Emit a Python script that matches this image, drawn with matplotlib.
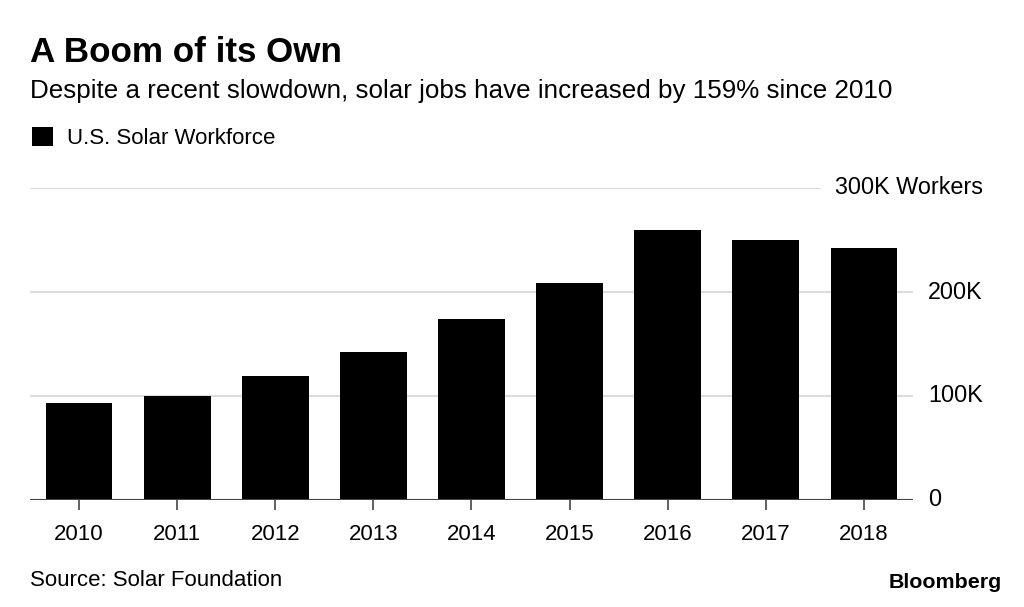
import matplotlib
matplotlib.use("Agg")
from matplotlib import pyplot as plt
import matplotlib.transforms as mtransforms

years = ["2010", "2011", "2012", "2013", "2014", "2015", "2016", "2017", "2018"]
workers = [93502, 100237, 119016, 142698, 173807, 208859, 260077, 250271, 242343]
y_ticks = [0, 100000, 200000, 300000]
y_labels = ["0", "100K", "200K", "300K Workers"]

plt.rcParams['font.family'] = ['Liberation Sans', 'DejaVu Sans']

W, H = 1024, 607
fig = plt.figure(figsize=(W / 100, H / 100), dpi=100)
ax = fig.add_axes([30 / W, 1 - 500 / H, 883 / W, 312 / H])

x = list(range(len(years)))
bars = ax.bar(x, workers, width=0.68, color="black", zorder=3, label="U.S. Solar Workforce")

ax.set_xlim(-0.5, len(years) - 0.5)
ax.set_ylim(0, 300000)

# gridlines, the top one stops before its longer label
for v in y_ticks[1:]:
    xmax = 0.895 if v == y_ticks[-1] else 1.0
    ax.axhline(v, xmin=0, xmax=xmax, color="#dcdcdc", lw=1.5, zorder=1)
ax.axhline(0, color="#444444", lw=1.5, zorder=4)

for s in ax.spines.values():
    s.set_visible(False)

ax.set_xticks(x)
ax.set_xticklabels(years, fontsize=16)
ax.tick_params(axis="x", length=7, width=1.2, color="#444444", pad=10)
ax.set_yticks([])

trans = mtransforms.blended_transform_factory(ax.transAxes, ax.transData)
for v, lab in zip(y_ticks, y_labels):
    xpos = 0.912 if v == y_ticks[-1] else 1.017
    ax.text(xpos, v, lab, transform=trans, ha="left", va="center", fontsize=16.8)

fig.text(30 / W, 1 - 53 / H, "A Boom of its Own", fontsize=25.2, fontweight="bold", ha="left", va="center")
fig.text(30 / W, 1 - 91 / H, "Despite a recent slowdown, solar jobs have increased by 159% since 2010",
         fontsize=18.7, ha="left", va="center")

fig.legend(handles=[bars], loc="center left", bbox_to_anchor=(32 / W, 1 - 138 / H),
           frameon=False, fontsize=16, handlelength=0.95, handleheight=0.95, handletextpad=0.62,
           borderpad=0, borderaxespad=0)

fig.text(30 / W, 1 - 581 / H, "Source: Solar Foundation", fontsize=16, ha="left", va="center")
fig.text(1002 / W, 1 - 582 / H, "Bloomberg", fontsize=15.4, fontweight="bold", ha="right", va="center")

fig.savefig("out.png", dpi=100)
